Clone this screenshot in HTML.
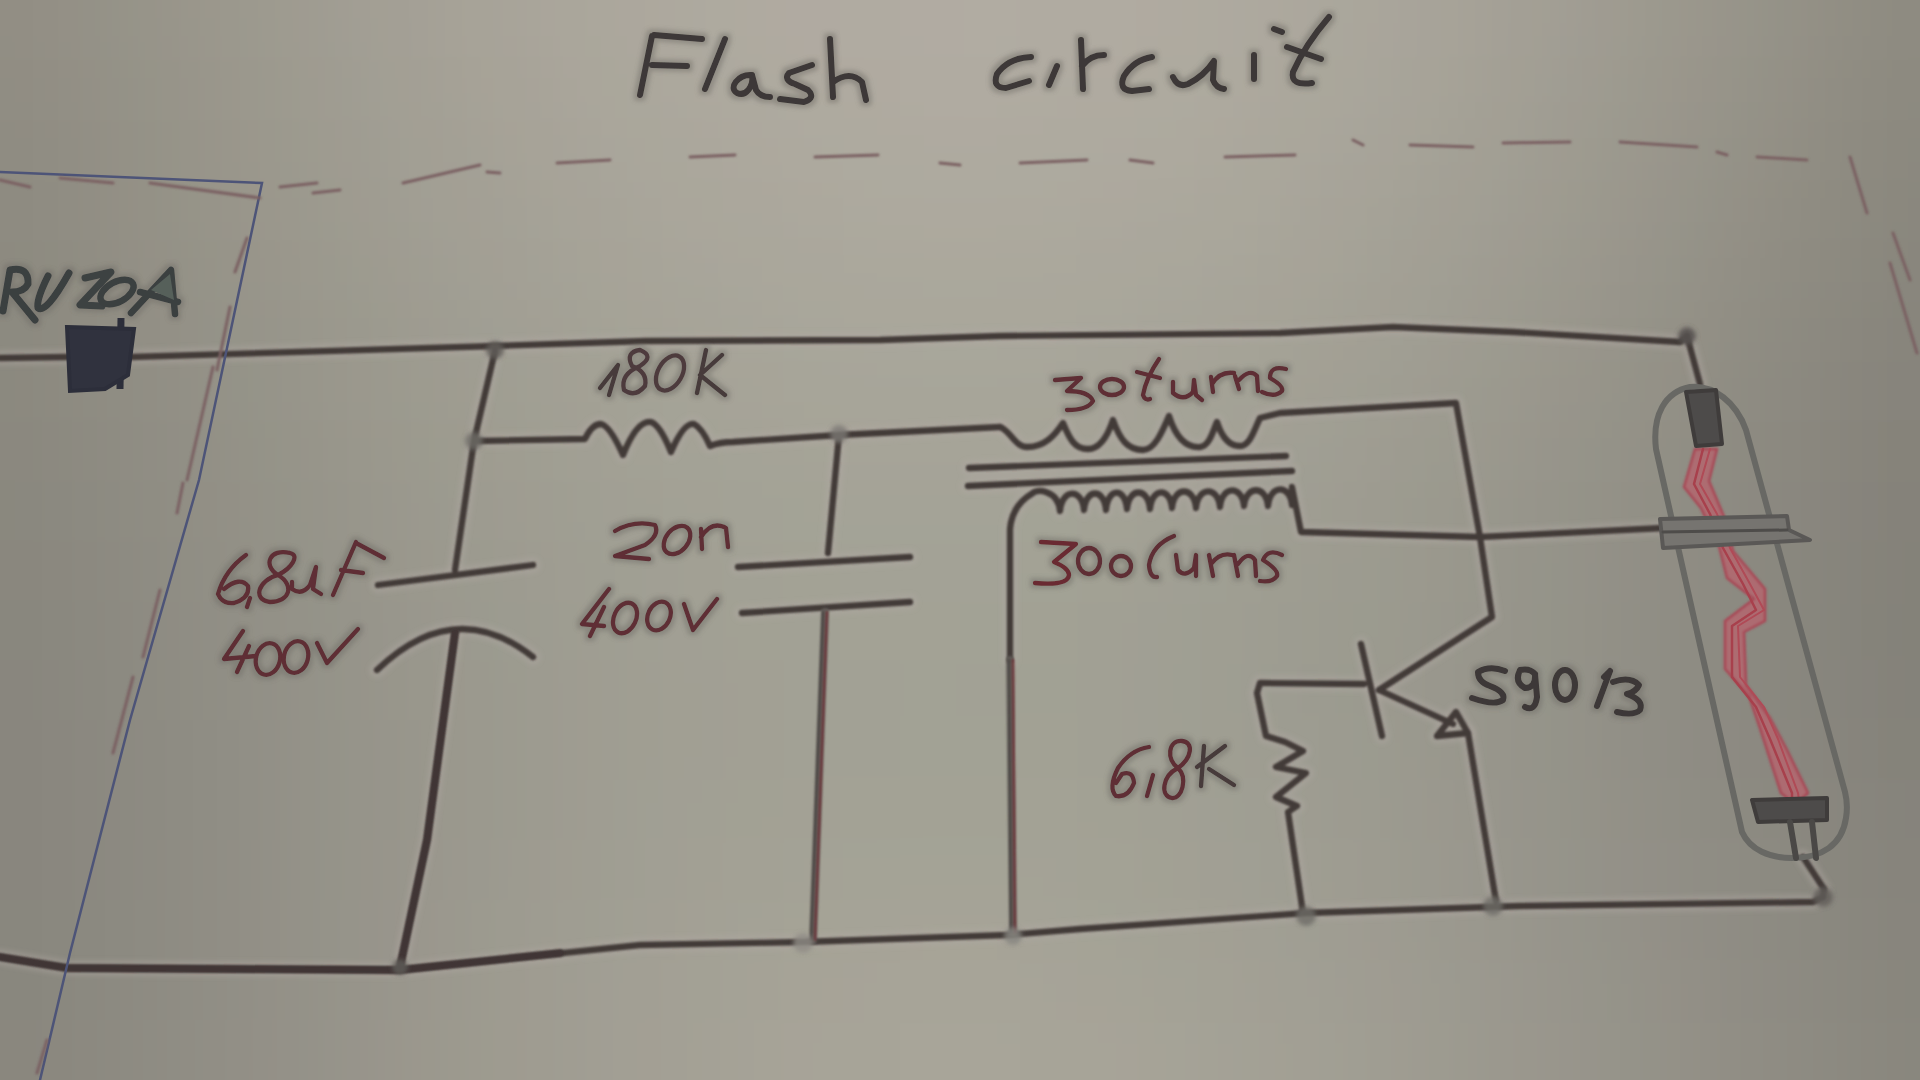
<!DOCTYPE html>
<html><head><meta charset="utf-8"><title>Flash circuit</title>
<style>
html,body{margin:0;padding:0;width:1920px;height:1080px;overflow:hidden;background:#a6a398;font-family:"Liberation Sans",sans-serif;}
svg{display:block;position:absolute;left:0;top:0;}
</style></head><body>
<svg width="1920" height="1080" viewBox="0 0 1920 1080">
<defs>

<filter id="bgblur" filterUnits="userSpaceOnUse" x="-160" y="-160" width="2240" height="1400"><feGaussianBlur stdDeviation="35"/></filter>
<filter id="smudge" x="-10%" y="-10%" width="120%" height="120%">
<feMorphology in="SourceAlpha" operator="dilate" radius="2.5" result="d"/>
<feGaussianBlur in="d" stdDeviation="2.2" result="b"/>
<feFlood flood-color="#6f6c66" flood-opacity="0.45"/>
<feComposite in2="b" operator="in" result="s"/>
<feGaussianBlur in="SourceGraphic" stdDeviation="0.6" result="g"/>
<feMerge><feMergeNode in="s"/><feMergeNode in="g"/></feMerge>
</filter>
<filter id="blur2" x="-5%" y="-5%" width="110%" height="110%"><feGaussianBlur stdDeviation="2"/></filter>
<filter id="blur15" x="-5%" y="-5%" width="110%" height="110%"><feGaussianBlur stdDeviation="1.1"/></filter>
<filter id="blur1" x="-5%" y="-5%" width="110%" height="110%"><feGaussianBlur stdDeviation="0.8"/></filter>
</defs>
<!--BG--><g filter="url(#bgblur)"><rect x="-120" y="-120" width="60" height="60" fill="#918e83"/><rect x="-60" y="-120" width="60" height="60" fill="#918e83"/><rect x="0" y="-120" width="60" height="60" fill="#938f85"/><rect x="60" y="-120" width="60" height="60" fill="#959287"/><rect x="120" y="-120" width="60" height="60" fill="#98948a"/><rect x="180" y="-120" width="60" height="60" fill="#9b978d"/><rect x="240" y="-120" width="60" height="60" fill="#9e9a90"/><rect x="300" y="-120" width="60" height="60" fill="#a19d92"/><rect x="360" y="-120" width="60" height="60" fill="#a4a095"/><rect x="420" y="-120" width="60" height="60" fill="#a6a297"/><rect x="480" y="-120" width="60" height="60" fill="#a8a499"/><rect x="540" y="-120" width="60" height="60" fill="#aaa69b"/><rect x="600" y="-120" width="60" height="60" fill="#aca89d"/><rect x="660" y="-120" width="60" height="60" fill="#aea99f"/><rect x="720" y="-120" width="60" height="60" fill="#afaaa0"/><rect x="780" y="-120" width="60" height="60" fill="#b0aba1"/><rect x="840" y="-120" width="60" height="60" fill="#b1aba2"/><rect x="900" y="-120" width="60" height="60" fill="#b1aca2"/><rect x="960" y="-120" width="60" height="60" fill="#b1aca2"/><rect x="1020" y="-120" width="60" height="60" fill="#b1aca2"/><rect x="1080" y="-120" width="60" height="60" fill="#b0aba1"/><rect x="1140" y="-120" width="60" height="60" fill="#afaaa0"/><rect x="1200" y="-120" width="60" height="60" fill="#aea99f"/><rect x="1260" y="-120" width="60" height="60" fill="#aca89e"/><rect x="1320" y="-120" width="60" height="60" fill="#aba79c"/><rect x="1380" y="-120" width="60" height="60" fill="#a9a59a"/><rect x="1440" y="-120" width="60" height="60" fill="#a6a298"/><rect x="1500" y="-120" width="60" height="60" fill="#a3a095"/><rect x="1560" y="-120" width="60" height="60" fill="#a09d92"/><rect x="1620" y="-120" width="60" height="60" fill="#9d998f"/><rect x="1680" y="-120" width="60" height="60" fill="#99968b"/><rect x="1740" y="-120" width="60" height="60" fill="#969388"/><rect x="1800" y="-120" width="60" height="60" fill="#928f85"/><rect x="1860" y="-120" width="60" height="60" fill="#8f8c82"/><rect x="1920" y="-120" width="60" height="60" fill="#8e8b80"/><rect x="1980" y="-120" width="60" height="60" fill="#8e8b80"/><rect x="-120" y="-60" width="60" height="60" fill="#918e83"/><rect x="-60" y="-60" width="60" height="60" fill="#918e83"/><rect x="0" y="-60" width="60" height="60" fill="#938f85"/><rect x="60" y="-60" width="60" height="60" fill="#959287"/><rect x="120" y="-60" width="60" height="60" fill="#98948a"/><rect x="180" y="-60" width="60" height="60" fill="#9b978d"/><rect x="240" y="-60" width="60" height="60" fill="#9e9a90"/><rect x="300" y="-60" width="60" height="60" fill="#a19d92"/><rect x="360" y="-60" width="60" height="60" fill="#a4a095"/><rect x="420" y="-60" width="60" height="60" fill="#a6a297"/><rect x="480" y="-60" width="60" height="60" fill="#a8a499"/><rect x="540" y="-60" width="60" height="60" fill="#aaa69b"/><rect x="600" y="-60" width="60" height="60" fill="#aca89d"/><rect x="660" y="-60" width="60" height="60" fill="#aea99f"/><rect x="720" y="-60" width="60" height="60" fill="#afaaa0"/><rect x="780" y="-60" width="60" height="60" fill="#b0aba1"/><rect x="840" y="-60" width="60" height="60" fill="#b1aba2"/><rect x="900" y="-60" width="60" height="60" fill="#b1aca2"/><rect x="960" y="-60" width="60" height="60" fill="#b1aca2"/><rect x="1020" y="-60" width="60" height="60" fill="#b1aca2"/><rect x="1080" y="-60" width="60" height="60" fill="#b0aba1"/><rect x="1140" y="-60" width="60" height="60" fill="#afaaa0"/><rect x="1200" y="-60" width="60" height="60" fill="#aea99f"/><rect x="1260" y="-60" width="60" height="60" fill="#aca89e"/><rect x="1320" y="-60" width="60" height="60" fill="#aba79c"/><rect x="1380" y="-60" width="60" height="60" fill="#a9a59a"/><rect x="1440" y="-60" width="60" height="60" fill="#a6a298"/><rect x="1500" y="-60" width="60" height="60" fill="#a3a095"/><rect x="1560" y="-60" width="60" height="60" fill="#a09d92"/><rect x="1620" y="-60" width="60" height="60" fill="#9d998f"/><rect x="1680" y="-60" width="60" height="60" fill="#99968b"/><rect x="1740" y="-60" width="60" height="60" fill="#969388"/><rect x="1800" y="-60" width="60" height="60" fill="#928f85"/><rect x="1860" y="-60" width="60" height="60" fill="#8f8c82"/><rect x="1920" y="-60" width="60" height="60" fill="#8e8b80"/><rect x="1980" y="-60" width="60" height="60" fill="#8e8b80"/><rect x="-120" y="0" width="60" height="60" fill="#918d83"/><rect x="-60" y="0" width="60" height="60" fill="#918d83"/><rect x="0" y="0" width="60" height="60" fill="#928e84"/><rect x="60" y="0" width="60" height="60" fill="#949187"/><rect x="120" y="0" width="60" height="60" fill="#979489"/><rect x="180" y="0" width="60" height="60" fill="#9a978c"/><rect x="240" y="0" width="60" height="60" fill="#9d9a8f"/><rect x="300" y="0" width="60" height="60" fill="#a09d92"/><rect x="360" y="0" width="60" height="60" fill="#a39f95"/><rect x="420" y="0" width="60" height="60" fill="#a6a297"/><rect x="480" y="0" width="60" height="60" fill="#a8a499"/><rect x="540" y="0" width="60" height="60" fill="#aaa69b"/><rect x="600" y="0" width="60" height="60" fill="#aca79d"/><rect x="660" y="0" width="60" height="60" fill="#ada99e"/><rect x="720" y="0" width="60" height="60" fill="#afaaa0"/><rect x="780" y="0" width="60" height="60" fill="#b0aaa1"/><rect x="840" y="0" width="60" height="60" fill="#b0aba1"/><rect x="900" y="0" width="60" height="60" fill="#b1aba2"/><rect x="960" y="0" width="60" height="60" fill="#b1aca2"/><rect x="1020" y="0" width="60" height="60" fill="#b0aba1"/><rect x="1080" y="0" width="60" height="60" fill="#b0aba1"/><rect x="1140" y="0" width="60" height="60" fill="#afaaa0"/><rect x="1200" y="0" width="60" height="60" fill="#aea99f"/><rect x="1260" y="0" width="60" height="60" fill="#aca89d"/><rect x="1320" y="0" width="60" height="60" fill="#aaa69c"/><rect x="1380" y="0" width="60" height="60" fill="#a8a49a"/><rect x="1440" y="0" width="60" height="60" fill="#a6a297"/><rect x="1500" y="0" width="60" height="60" fill="#a39f95"/><rect x="1560" y="0" width="60" height="60" fill="#a09c92"/><rect x="1620" y="0" width="60" height="60" fill="#9c998e"/><rect x="1680" y="0" width="60" height="60" fill="#99968b"/><rect x="1740" y="0" width="60" height="60" fill="#959288"/><rect x="1800" y="0" width="60" height="60" fill="#928f84"/><rect x="1860" y="0" width="60" height="60" fill="#8e8b81"/><rect x="1920" y="0" width="60" height="60" fill="#8d8a80"/><rect x="1980" y="0" width="60" height="60" fill="#8d8a80"/><rect x="-120" y="60" width="60" height="60" fill="#8f8c82"/><rect x="-60" y="60" width="60" height="60" fill="#8f8c82"/><rect x="0" y="60" width="60" height="60" fill="#918d83"/><rect x="60" y="60" width="60" height="60" fill="#939086"/><rect x="120" y="60" width="60" height="60" fill="#969388"/><rect x="180" y="60" width="60" height="60" fill="#99968b"/><rect x="240" y="60" width="60" height="60" fill="#9c998e"/><rect x="300" y="60" width="60" height="60" fill="#9f9c91"/><rect x="360" y="60" width="60" height="60" fill="#a29f94"/><rect x="420" y="60" width="60" height="60" fill="#a5a196"/><rect x="480" y="60" width="60" height="60" fill="#a7a398"/><rect x="540" y="60" width="60" height="60" fill="#a9a59a"/><rect x="600" y="60" width="60" height="60" fill="#aba79c"/><rect x="660" y="60" width="60" height="60" fill="#aca89d"/><rect x="720" y="60" width="60" height="60" fill="#aea99f"/><rect x="780" y="60" width="60" height="60" fill="#afaaa0"/><rect x="840" y="60" width="60" height="60" fill="#afaaa0"/><rect x="900" y="60" width="60" height="60" fill="#b0aba1"/><rect x="960" y="60" width="60" height="60" fill="#b0aba1"/><rect x="1020" y="60" width="60" height="60" fill="#afaba1"/><rect x="1080" y="60" width="60" height="60" fill="#afaaa0"/><rect x="1140" y="60" width="60" height="60" fill="#aeaa9f"/><rect x="1200" y="60" width="60" height="60" fill="#ada99e"/><rect x="1260" y="60" width="60" height="60" fill="#aba79c"/><rect x="1320" y="60" width="60" height="60" fill="#a9a69b"/><rect x="1380" y="60" width="60" height="60" fill="#a7a499"/><rect x="1440" y="60" width="60" height="60" fill="#a5a196"/><rect x="1500" y="60" width="60" height="60" fill="#a29f94"/><rect x="1560" y="60" width="60" height="60" fill="#9e9b91"/><rect x="1620" y="60" width="60" height="60" fill="#9b988d"/><rect x="1680" y="60" width="60" height="60" fill="#98948a"/><rect x="1740" y="60" width="60" height="60" fill="#949187"/><rect x="1800" y="60" width="60" height="60" fill="#908d83"/><rect x="1860" y="60" width="60" height="60" fill="#8d8a80"/><rect x="1920" y="60" width="60" height="60" fill="#8c897f"/><rect x="1980" y="60" width="60" height="60" fill="#8c897f"/><rect x="-120" y="120" width="60" height="60" fill="#8e8b81"/><rect x="-60" y="120" width="60" height="60" fill="#8e8b81"/><rect x="0" y="120" width="60" height="60" fill="#8f8c82"/><rect x="60" y="120" width="60" height="60" fill="#928f85"/><rect x="120" y="120" width="60" height="60" fill="#959287"/><rect x="180" y="120" width="60" height="60" fill="#98958a"/><rect x="240" y="120" width="60" height="60" fill="#9b988d"/><rect x="300" y="120" width="60" height="60" fill="#9e9b90"/><rect x="360" y="120" width="60" height="60" fill="#a19e93"/><rect x="420" y="120" width="60" height="60" fill="#a3a095"/><rect x="480" y="120" width="60" height="60" fill="#a6a297"/><rect x="540" y="120" width="60" height="60" fill="#a8a499"/><rect x="600" y="120" width="60" height="60" fill="#a9a69b"/><rect x="660" y="120" width="60" height="60" fill="#aba79c"/><rect x="720" y="120" width="60" height="60" fill="#aca89d"/><rect x="780" y="120" width="60" height="60" fill="#ada99e"/><rect x="840" y="120" width="60" height="60" fill="#aeaa9f"/><rect x="900" y="120" width="60" height="60" fill="#aeaaa0"/><rect x="960" y="120" width="60" height="60" fill="#aeaaa0"/><rect x="1020" y="120" width="60" height="60" fill="#aeaa9f"/><rect x="1080" y="120" width="60" height="60" fill="#aea99f"/><rect x="1140" y="120" width="60" height="60" fill="#ada99e"/><rect x="1200" y="120" width="60" height="60" fill="#aba89d"/><rect x="1260" y="120" width="60" height="60" fill="#aaa69b"/><rect x="1320" y="120" width="60" height="60" fill="#a8a59a"/><rect x="1380" y="120" width="60" height="60" fill="#a6a398"/><rect x="1440" y="120" width="60" height="60" fill="#a3a095"/><rect x="1500" y="120" width="60" height="60" fill="#a09d92"/><rect x="1560" y="120" width="60" height="60" fill="#9d9a8f"/><rect x="1620" y="120" width="60" height="60" fill="#9a978c"/><rect x="1680" y="120" width="60" height="60" fill="#969389"/><rect x="1740" y="120" width="60" height="60" fill="#939085"/><rect x="1800" y="120" width="60" height="60" fill="#8f8c82"/><rect x="1860" y="120" width="60" height="60" fill="#8c897f"/><rect x="1920" y="120" width="60" height="60" fill="#8a887e"/><rect x="1980" y="120" width="60" height="60" fill="#8a887e"/><rect x="-120" y="180" width="60" height="60" fill="#8d8a80"/><rect x="-60" y="180" width="60" height="60" fill="#8d8a80"/><rect x="0" y="180" width="60" height="60" fill="#8e8b81"/><rect x="60" y="180" width="60" height="60" fill="#918e84"/><rect x="120" y="180" width="60" height="60" fill="#949186"/><rect x="180" y="180" width="60" height="60" fill="#979489"/><rect x="240" y="180" width="60" height="60" fill="#9a978c"/><rect x="300" y="180" width="60" height="60" fill="#9d9a8f"/><rect x="360" y="180" width="60" height="60" fill="#a09d92"/><rect x="420" y="180" width="60" height="60" fill="#a29f94"/><rect x="480" y="180" width="60" height="60" fill="#a4a196"/><rect x="540" y="180" width="60" height="60" fill="#a6a398"/><rect x="600" y="180" width="60" height="60" fill="#a8a599"/><rect x="660" y="180" width="60" height="60" fill="#aaa69b"/><rect x="720" y="180" width="60" height="60" fill="#aba79c"/><rect x="780" y="180" width="60" height="60" fill="#aca89d"/><rect x="840" y="180" width="60" height="60" fill="#aca99e"/><rect x="900" y="180" width="60" height="60" fill="#ada99e"/><rect x="960" y="180" width="60" height="60" fill="#ada99e"/><rect x="1020" y="180" width="60" height="60" fill="#aca99e"/><rect x="1080" y="180" width="60" height="60" fill="#aca89d"/><rect x="1140" y="180" width="60" height="60" fill="#aba89d"/><rect x="1200" y="180" width="60" height="60" fill="#aaa79b"/><rect x="1260" y="180" width="60" height="60" fill="#a8a59a"/><rect x="1320" y="180" width="60" height="60" fill="#a6a398"/><rect x="1380" y="180" width="60" height="60" fill="#a4a196"/><rect x="1440" y="180" width="60" height="60" fill="#a29f94"/><rect x="1500" y="180" width="60" height="60" fill="#9f9c91"/><rect x="1560" y="180" width="60" height="60" fill="#9c998e"/><rect x="1620" y="180" width="60" height="60" fill="#98958b"/><rect x="1680" y="180" width="60" height="60" fill="#959288"/><rect x="1740" y="180" width="60" height="60" fill="#918e84"/><rect x="1800" y="180" width="60" height="60" fill="#8e8b81"/><rect x="1860" y="180" width="60" height="60" fill="#8b887e"/><rect x="1920" y="180" width="60" height="60" fill="#89867d"/><rect x="1980" y="180" width="60" height="60" fill="#89867d"/><rect x="-120" y="240" width="60" height="60" fill="#8c897f"/><rect x="-60" y="240" width="60" height="60" fill="#8c897f"/><rect x="0" y="240" width="60" height="60" fill="#8d8b80"/><rect x="60" y="240" width="60" height="60" fill="#908d83"/><rect x="120" y="240" width="60" height="60" fill="#939086"/><rect x="180" y="240" width="60" height="60" fill="#969388"/><rect x="240" y="240" width="60" height="60" fill="#99968b"/><rect x="300" y="240" width="60" height="60" fill="#9b998e"/><rect x="360" y="240" width="60" height="60" fill="#9e9c90"/><rect x="420" y="240" width="60" height="60" fill="#a19e93"/><rect x="480" y="240" width="60" height="60" fill="#a3a095"/><rect x="540" y="240" width="60" height="60" fill="#a5a297"/><rect x="600" y="240" width="60" height="60" fill="#a7a498"/><rect x="660" y="240" width="60" height="60" fill="#a8a59a"/><rect x="720" y="240" width="60" height="60" fill="#a9a69b"/><rect x="780" y="240" width="60" height="60" fill="#aaa79c"/><rect x="840" y="240" width="60" height="60" fill="#aba89c"/><rect x="900" y="240" width="60" height="60" fill="#aba89c"/><rect x="960" y="240" width="60" height="60" fill="#aba89c"/><rect x="1020" y="240" width="60" height="60" fill="#aba89c"/><rect x="1080" y="240" width="60" height="60" fill="#aaa79c"/><rect x="1140" y="240" width="60" height="60" fill="#a9a69b"/><rect x="1200" y="240" width="60" height="60" fill="#a8a59a"/><rect x="1260" y="240" width="60" height="60" fill="#a7a498"/><rect x="1320" y="240" width="60" height="60" fill="#a5a297"/><rect x="1380" y="240" width="60" height="60" fill="#a2a095"/><rect x="1440" y="240" width="60" height="60" fill="#a09d92"/><rect x="1500" y="240" width="60" height="60" fill="#9d9a90"/><rect x="1560" y="240" width="60" height="60" fill="#9a978d"/><rect x="1620" y="240" width="60" height="60" fill="#97948a"/><rect x="1680" y="240" width="60" height="60" fill="#939086"/><rect x="1740" y="240" width="60" height="60" fill="#908d83"/><rect x="1800" y="240" width="60" height="60" fill="#8d8a80"/><rect x="1860" y="240" width="60" height="60" fill="#89877d"/><rect x="1920" y="240" width="60" height="60" fill="#88857c"/><rect x="1980" y="240" width="60" height="60" fill="#88857c"/><rect x="-120" y="300" width="60" height="60" fill="#8b897f"/><rect x="-60" y="300" width="60" height="60" fill="#8b897f"/><rect x="0" y="300" width="60" height="60" fill="#8c8a80"/><rect x="60" y="300" width="60" height="60" fill="#8f8c82"/><rect x="120" y="300" width="60" height="60" fill="#928f85"/><rect x="180" y="300" width="60" height="60" fill="#949288"/><rect x="240" y="300" width="60" height="60" fill="#97958a"/><rect x="300" y="300" width="60" height="60" fill="#9a988d"/><rect x="360" y="300" width="60" height="60" fill="#9d9a8f"/><rect x="420" y="300" width="60" height="60" fill="#9f9d92"/><rect x="480" y="300" width="60" height="60" fill="#a19f94"/><rect x="540" y="300" width="60" height="60" fill="#a3a195"/><rect x="600" y="300" width="60" height="60" fill="#a5a397"/><rect x="660" y="300" width="60" height="60" fill="#a6a498"/><rect x="720" y="300" width="60" height="60" fill="#a8a599"/><rect x="780" y="300" width="60" height="60" fill="#a8a69a"/><rect x="840" y="300" width="60" height="60" fill="#a9a69b"/><rect x="900" y="300" width="60" height="60" fill="#a9a79b"/><rect x="960" y="300" width="60" height="60" fill="#a9a79b"/><rect x="1020" y="300" width="60" height="60" fill="#a9a69b"/><rect x="1080" y="300" width="60" height="60" fill="#a8a69a"/><rect x="1140" y="300" width="60" height="60" fill="#a7a599"/><rect x="1200" y="300" width="60" height="60" fill="#a6a498"/><rect x="1260" y="300" width="60" height="60" fill="#a5a297"/><rect x="1320" y="300" width="60" height="60" fill="#a3a095"/><rect x="1380" y="300" width="60" height="60" fill="#a19e93"/><rect x="1440" y="300" width="60" height="60" fill="#9e9c91"/><rect x="1500" y="300" width="60" height="60" fill="#9b998e"/><rect x="1560" y="300" width="60" height="60" fill="#98968b"/><rect x="1620" y="300" width="60" height="60" fill="#959288"/><rect x="1680" y="300" width="60" height="60" fill="#928f85"/><rect x="1740" y="300" width="60" height="60" fill="#8e8c82"/><rect x="1800" y="300" width="60" height="60" fill="#8b887f"/><rect x="1860" y="300" width="60" height="60" fill="#88857c"/><rect x="1920" y="300" width="60" height="60" fill="#87847b"/><rect x="1980" y="300" width="60" height="60" fill="#87847b"/><rect x="-120" y="360" width="60" height="60" fill="#8a887e"/><rect x="-60" y="360" width="60" height="60" fill="#8a887e"/><rect x="0" y="360" width="60" height="60" fill="#8c897f"/><rect x="60" y="360" width="60" height="60" fill="#8e8c82"/><rect x="120" y="360" width="60" height="60" fill="#918e84"/><rect x="180" y="360" width="60" height="60" fill="#939187"/><rect x="240" y="360" width="60" height="60" fill="#969489"/><rect x="300" y="360" width="60" height="60" fill="#99978c"/><rect x="360" y="360" width="60" height="60" fill="#9c998e"/><rect x="420" y="360" width="60" height="60" fill="#9e9c90"/><rect x="480" y="360" width="60" height="60" fill="#a09e92"/><rect x="540" y="360" width="60" height="60" fill="#a2a094"/><rect x="600" y="360" width="60" height="60" fill="#a4a296"/><rect x="660" y="360" width="60" height="60" fill="#a5a397"/><rect x="720" y="360" width="60" height="60" fill="#a6a498"/><rect x="780" y="360" width="60" height="60" fill="#a7a599"/><rect x="840" y="360" width="60" height="60" fill="#a7a599"/><rect x="900" y="360" width="60" height="60" fill="#a7a599"/><rect x="960" y="360" width="60" height="60" fill="#a7a599"/><rect x="1020" y="360" width="60" height="60" fill="#a7a599"/><rect x="1080" y="360" width="60" height="60" fill="#a6a498"/><rect x="1140" y="360" width="60" height="60" fill="#a5a398"/><rect x="1200" y="360" width="60" height="60" fill="#a4a296"/><rect x="1260" y="360" width="60" height="60" fill="#a3a195"/><rect x="1320" y="360" width="60" height="60" fill="#a19f93"/><rect x="1380" y="360" width="60" height="60" fill="#9f9d92"/><rect x="1440" y="360" width="60" height="60" fill="#9c9a8f"/><rect x="1500" y="360" width="60" height="60" fill="#9a978d"/><rect x="1560" y="360" width="60" height="60" fill="#97948a"/><rect x="1620" y="360" width="60" height="60" fill="#949187"/><rect x="1680" y="360" width="60" height="60" fill="#908e84"/><rect x="1740" y="360" width="60" height="60" fill="#8d8a81"/><rect x="1800" y="360" width="60" height="60" fill="#8a877e"/><rect x="1860" y="360" width="60" height="60" fill="#87847b"/><rect x="1920" y="360" width="60" height="60" fill="#86837a"/><rect x="1980" y="360" width="60" height="60" fill="#86837a"/><rect x="-120" y="420" width="60" height="60" fill="#8a877e"/><rect x="-60" y="420" width="60" height="60" fill="#8a877e"/><rect x="0" y="420" width="60" height="60" fill="#8b887f"/><rect x="60" y="420" width="60" height="60" fill="#8d8b81"/><rect x="120" y="420" width="60" height="60" fill="#908d84"/><rect x="180" y="420" width="60" height="60" fill="#929086"/><rect x="240" y="420" width="60" height="60" fill="#959388"/><rect x="300" y="420" width="60" height="60" fill="#98968b"/><rect x="360" y="420" width="60" height="60" fill="#9a988d"/><rect x="420" y="420" width="60" height="60" fill="#9d9b8f"/><rect x="480" y="420" width="60" height="60" fill="#9f9d91"/><rect x="540" y="420" width="60" height="60" fill="#a19f93"/><rect x="600" y="420" width="60" height="60" fill="#a2a195"/><rect x="660" y="420" width="60" height="60" fill="#a4a296"/><rect x="720" y="420" width="60" height="60" fill="#a5a397"/><rect x="780" y="420" width="60" height="60" fill="#a5a497"/><rect x="840" y="420" width="60" height="60" fill="#a6a498"/><rect x="900" y="420" width="60" height="60" fill="#a6a498"/><rect x="960" y="420" width="60" height="60" fill="#a6a498"/><rect x="1020" y="420" width="60" height="60" fill="#a5a497"/><rect x="1080" y="420" width="60" height="60" fill="#a5a397"/><rect x="1140" y="420" width="60" height="60" fill="#a4a296"/><rect x="1200" y="420" width="60" height="60" fill="#a2a195"/><rect x="1260" y="420" width="60" height="60" fill="#a19f94"/><rect x="1320" y="420" width="60" height="60" fill="#9f9d92"/><rect x="1380" y="420" width="60" height="60" fill="#9d9b90"/><rect x="1440" y="420" width="60" height="60" fill="#9b998e"/><rect x="1500" y="420" width="60" height="60" fill="#98968c"/><rect x="1560" y="420" width="60" height="60" fill="#959389"/><rect x="1620" y="420" width="60" height="60" fill="#929086"/><rect x="1680" y="420" width="60" height="60" fill="#8f8d83"/><rect x="1740" y="420" width="60" height="60" fill="#8c8980"/><rect x="1800" y="420" width="60" height="60" fill="#89867d"/><rect x="1860" y="420" width="60" height="60" fill="#86837a"/><rect x="1920" y="420" width="60" height="60" fill="#858279"/><rect x="1980" y="420" width="60" height="60" fill="#858279"/><rect x="-120" y="480" width="60" height="60" fill="#89877d"/><rect x="-60" y="480" width="60" height="60" fill="#89877d"/><rect x="0" y="480" width="60" height="60" fill="#8a887f"/><rect x="60" y="480" width="60" height="60" fill="#8c8a81"/><rect x="120" y="480" width="60" height="60" fill="#8f8d83"/><rect x="180" y="480" width="60" height="60" fill="#928f85"/><rect x="240" y="480" width="60" height="60" fill="#949288"/><rect x="300" y="480" width="60" height="60" fill="#97958a"/><rect x="360" y="480" width="60" height="60" fill="#99978d"/><rect x="420" y="480" width="60" height="60" fill="#9c9a8f"/><rect x="480" y="480" width="60" height="60" fill="#9e9c91"/><rect x="540" y="480" width="60" height="60" fill="#a09e92"/><rect x="600" y="480" width="60" height="60" fill="#a1a094"/><rect x="660" y="480" width="60" height="60" fill="#a2a195"/><rect x="720" y="480" width="60" height="60" fill="#a3a296"/><rect x="780" y="480" width="60" height="60" fill="#a4a396"/><rect x="840" y="480" width="60" height="60" fill="#a4a397"/><rect x="900" y="480" width="60" height="60" fill="#a4a397"/><rect x="960" y="480" width="60" height="60" fill="#a4a397"/><rect x="1020" y="480" width="60" height="60" fill="#a4a396"/><rect x="1080" y="480" width="60" height="60" fill="#a3a296"/><rect x="1140" y="480" width="60" height="60" fill="#a2a195"/><rect x="1200" y="480" width="60" height="60" fill="#a19f94"/><rect x="1260" y="480" width="60" height="60" fill="#9f9e92"/><rect x="1320" y="480" width="60" height="60" fill="#9e9c91"/><rect x="1380" y="480" width="60" height="60" fill="#9c9a8f"/><rect x="1440" y="480" width="60" height="60" fill="#99988d"/><rect x="1500" y="480" width="60" height="60" fill="#97958b"/><rect x="1560" y="480" width="60" height="60" fill="#949288"/><rect x="1620" y="480" width="60" height="60" fill="#918f85"/><rect x="1680" y="480" width="60" height="60" fill="#8e8c83"/><rect x="1740" y="480" width="60" height="60" fill="#8b8880"/><rect x="1800" y="480" width="60" height="60" fill="#88857d"/><rect x="1860" y="480" width="60" height="60" fill="#85827a"/><rect x="1920" y="480" width="60" height="60" fill="#848179"/><rect x="1980" y="480" width="60" height="60" fill="#848179"/><rect x="-120" y="540" width="60" height="60" fill="#89867d"/><rect x="-60" y="540" width="60" height="60" fill="#89867d"/><rect x="0" y="540" width="60" height="60" fill="#8a877e"/><rect x="60" y="540" width="60" height="60" fill="#8c8980"/><rect x="120" y="540" width="60" height="60" fill="#8e8c83"/><rect x="180" y="540" width="60" height="60" fill="#918f85"/><rect x="240" y="540" width="60" height="60" fill="#939187"/><rect x="300" y="540" width="60" height="60" fill="#96948a"/><rect x="360" y="540" width="60" height="60" fill="#99978c"/><rect x="420" y="540" width="60" height="60" fill="#9b998e"/><rect x="480" y="540" width="60" height="60" fill="#9d9b90"/><rect x="540" y="540" width="60" height="60" fill="#9f9d92"/><rect x="600" y="540" width="60" height="60" fill="#a09f93"/><rect x="660" y="540" width="60" height="60" fill="#a2a094"/><rect x="720" y="540" width="60" height="60" fill="#a2a195"/><rect x="780" y="540" width="60" height="60" fill="#a3a295"/><rect x="840" y="540" width="60" height="60" fill="#a3a296"/><rect x="900" y="540" width="60" height="60" fill="#a3a296"/><rect x="960" y="540" width="60" height="60" fill="#a3a296"/><rect x="1020" y="540" width="60" height="60" fill="#a2a295"/><rect x="1080" y="540" width="60" height="60" fill="#a2a194"/><rect x="1140" y="540" width="60" height="60" fill="#a1a094"/><rect x="1200" y="540" width="60" height="60" fill="#9f9e92"/><rect x="1260" y="540" width="60" height="60" fill="#9e9d91"/><rect x="1320" y="540" width="60" height="60" fill="#9c9b90"/><rect x="1380" y="540" width="60" height="60" fill="#9b998e"/><rect x="1440" y="540" width="60" height="60" fill="#98978c"/><rect x="1500" y="540" width="60" height="60" fill="#96948a"/><rect x="1560" y="540" width="60" height="60" fill="#939188"/><rect x="1620" y="540" width="60" height="60" fill="#918e85"/><rect x="1680" y="540" width="60" height="60" fill="#8e8b82"/><rect x="1740" y="540" width="60" height="60" fill="#8a887f"/><rect x="1800" y="540" width="60" height="60" fill="#87857c"/><rect x="1860" y="540" width="60" height="60" fill="#85827a"/><rect x="1920" y="540" width="60" height="60" fill="#838178"/><rect x="1980" y="540" width="60" height="60" fill="#838178"/><rect x="-120" y="600" width="60" height="60" fill="#88867d"/><rect x="-60" y="600" width="60" height="60" fill="#88867d"/><rect x="0" y="600" width="60" height="60" fill="#89877e"/><rect x="60" y="600" width="60" height="60" fill="#8b8980"/><rect x="120" y="600" width="60" height="60" fill="#8e8b82"/><rect x="180" y="600" width="60" height="60" fill="#908e85"/><rect x="240" y="600" width="60" height="60" fill="#939187"/><rect x="300" y="600" width="60" height="60" fill="#959389"/><rect x="360" y="600" width="60" height="60" fill="#98968c"/><rect x="420" y="600" width="60" height="60" fill="#9a988e"/><rect x="480" y="600" width="60" height="60" fill="#9c9b90"/><rect x="540" y="600" width="60" height="60" fill="#9e9d91"/><rect x="600" y="600" width="60" height="60" fill="#a09e93"/><rect x="660" y="600" width="60" height="60" fill="#a1a094"/><rect x="720" y="600" width="60" height="60" fill="#a2a194"/><rect x="780" y="600" width="60" height="60" fill="#a2a195"/><rect x="840" y="600" width="60" height="60" fill="#a3a295"/><rect x="900" y="600" width="60" height="60" fill="#a3a295"/><rect x="960" y="600" width="60" height="60" fill="#a2a295"/><rect x="1020" y="600" width="60" height="60" fill="#a2a194"/><rect x="1080" y="600" width="60" height="60" fill="#a1a094"/><rect x="1140" y="600" width="60" height="60" fill="#a09f93"/><rect x="1200" y="600" width="60" height="60" fill="#9f9e92"/><rect x="1260" y="600" width="60" height="60" fill="#9d9c91"/><rect x="1320" y="600" width="60" height="60" fill="#9c9b8f"/><rect x="1380" y="600" width="60" height="60" fill="#9a998e"/><rect x="1440" y="600" width="60" height="60" fill="#98968c"/><rect x="1500" y="600" width="60" height="60" fill="#96948a"/><rect x="1560" y="600" width="60" height="60" fill="#939187"/><rect x="1620" y="600" width="60" height="60" fill="#908e85"/><rect x="1680" y="600" width="60" height="60" fill="#8d8b82"/><rect x="1740" y="600" width="60" height="60" fill="#8a887f"/><rect x="1800" y="600" width="60" height="60" fill="#87857c"/><rect x="1860" y="600" width="60" height="60" fill="#84827a"/><rect x="1920" y="600" width="60" height="60" fill="#838178"/><rect x="1980" y="600" width="60" height="60" fill="#838178"/><rect x="-120" y="660" width="60" height="60" fill="#88857d"/><rect x="-60" y="660" width="60" height="60" fill="#88857d"/><rect x="0" y="660" width="60" height="60" fill="#89867e"/><rect x="60" y="660" width="60" height="60" fill="#8b8980"/><rect x="120" y="660" width="60" height="60" fill="#8d8b82"/><rect x="180" y="660" width="60" height="60" fill="#908e84"/><rect x="240" y="660" width="60" height="60" fill="#929087"/><rect x="300" y="660" width="60" height="60" fill="#959389"/><rect x="360" y="660" width="60" height="60" fill="#98968b"/><rect x="420" y="660" width="60" height="60" fill="#9a988d"/><rect x="480" y="660" width="60" height="60" fill="#9c9a8f"/><rect x="540" y="660" width="60" height="60" fill="#9e9c91"/><rect x="600" y="660" width="60" height="60" fill="#a09e92"/><rect x="660" y="660" width="60" height="60" fill="#a19f93"/><rect x="720" y="660" width="60" height="60" fill="#a2a094"/><rect x="780" y="660" width="60" height="60" fill="#a2a195"/><rect x="840" y="660" width="60" height="60" fill="#a2a195"/><rect x="900" y="660" width="60" height="60" fill="#a2a295"/><rect x="960" y="660" width="60" height="60" fill="#a2a195"/><rect x="1020" y="660" width="60" height="60" fill="#a1a194"/><rect x="1080" y="660" width="60" height="60" fill="#a1a094"/><rect x="1140" y="660" width="60" height="60" fill="#a09f93"/><rect x="1200" y="660" width="60" height="60" fill="#9e9e92"/><rect x="1260" y="660" width="60" height="60" fill="#9d9c91"/><rect x="1320" y="660" width="60" height="60" fill="#9b9a8f"/><rect x="1380" y="660" width="60" height="60" fill="#9a988e"/><rect x="1440" y="660" width="60" height="60" fill="#98968c"/><rect x="1500" y="660" width="60" height="60" fill="#95948a"/><rect x="1560" y="660" width="60" height="60" fill="#939188"/><rect x="1620" y="660" width="60" height="60" fill="#908e85"/><rect x="1680" y="660" width="60" height="60" fill="#8d8b82"/><rect x="1740" y="660" width="60" height="60" fill="#8a887f"/><rect x="1800" y="660" width="60" height="60" fill="#87857d"/><rect x="1860" y="660" width="60" height="60" fill="#85827a"/><rect x="1920" y="660" width="60" height="60" fill="#838179"/><rect x="1980" y="660" width="60" height="60" fill="#838179"/><rect x="-120" y="720" width="60" height="60" fill="#88857d"/><rect x="-60" y="720" width="60" height="60" fill="#88857d"/><rect x="0" y="720" width="60" height="60" fill="#89867e"/><rect x="60" y="720" width="60" height="60" fill="#8b8880"/><rect x="120" y="720" width="60" height="60" fill="#8d8b82"/><rect x="180" y="720" width="60" height="60" fill="#8f8d84"/><rect x="240" y="720" width="60" height="60" fill="#929087"/><rect x="300" y="720" width="60" height="60" fill="#959389"/><rect x="360" y="720" width="60" height="60" fill="#97958b"/><rect x="420" y="720" width="60" height="60" fill="#9a988d"/><rect x="480" y="720" width="60" height="60" fill="#9c9a8f"/><rect x="540" y="720" width="60" height="60" fill="#9e9c91"/><rect x="600" y="720" width="60" height="60" fill="#a09e92"/><rect x="660" y="720" width="60" height="60" fill="#a19f93"/><rect x="720" y="720" width="60" height="60" fill="#a2a094"/><rect x="780" y="720" width="60" height="60" fill="#a2a195"/><rect x="840" y="720" width="60" height="60" fill="#a2a195"/><rect x="900" y="720" width="60" height="60" fill="#a2a295"/><rect x="960" y="720" width="60" height="60" fill="#a2a295"/><rect x="1020" y="720" width="60" height="60" fill="#a2a194"/><rect x="1080" y="720" width="60" height="60" fill="#a1a094"/><rect x="1140" y="720" width="60" height="60" fill="#a09f93"/><rect x="1200" y="720" width="60" height="60" fill="#9f9e92"/><rect x="1260" y="720" width="60" height="60" fill="#9d9c91"/><rect x="1320" y="720" width="60" height="60" fill="#9c9b90"/><rect x="1380" y="720" width="60" height="60" fill="#9a998e"/><rect x="1440" y="720" width="60" height="60" fill="#98968c"/><rect x="1500" y="720" width="60" height="60" fill="#96948a"/><rect x="1560" y="720" width="60" height="60" fill="#939188"/><rect x="1620" y="720" width="60" height="60" fill="#908e85"/><rect x="1680" y="720" width="60" height="60" fill="#8e8b83"/><rect x="1740" y="720" width="60" height="60" fill="#8b8880"/><rect x="1800" y="720" width="60" height="60" fill="#88857d"/><rect x="1860" y="720" width="60" height="60" fill="#85837a"/><rect x="1920" y="720" width="60" height="60" fill="#848279"/><rect x="1980" y="720" width="60" height="60" fill="#848279"/><rect x="-120" y="780" width="60" height="60" fill="#88857d"/><rect x="-60" y="780" width="60" height="60" fill="#88857d"/><rect x="0" y="780" width="60" height="60" fill="#89867e"/><rect x="60" y="780" width="60" height="60" fill="#8b8880"/><rect x="120" y="780" width="60" height="60" fill="#8d8b82"/><rect x="180" y="780" width="60" height="60" fill="#8f8d84"/><rect x="240" y="780" width="60" height="60" fill="#929087"/><rect x="300" y="780" width="60" height="60" fill="#959389"/><rect x="360" y="780" width="60" height="60" fill="#97958b"/><rect x="420" y="780" width="60" height="60" fill="#9a988d"/><rect x="480" y="780" width="60" height="60" fill="#9c9a8f"/><rect x="540" y="780" width="60" height="60" fill="#9e9c91"/><rect x="600" y="780" width="60" height="60" fill="#a09e93"/><rect x="660" y="780" width="60" height="60" fill="#a1a094"/><rect x="720" y="780" width="60" height="60" fill="#a2a194"/><rect x="780" y="780" width="60" height="60" fill="#a3a195"/><rect x="840" y="780" width="60" height="60" fill="#a3a295"/><rect x="900" y="780" width="60" height="60" fill="#a3a295"/><rect x="960" y="780" width="60" height="60" fill="#a3a295"/><rect x="1020" y="780" width="60" height="60" fill="#a3a295"/><rect x="1080" y="780" width="60" height="60" fill="#a2a194"/><rect x="1140" y="780" width="60" height="60" fill="#a1a094"/><rect x="1200" y="780" width="60" height="60" fill="#a09f93"/><rect x="1260" y="780" width="60" height="60" fill="#9e9d92"/><rect x="1320" y="780" width="60" height="60" fill="#9d9b90"/><rect x="1380" y="780" width="60" height="60" fill="#9b998f"/><rect x="1440" y="780" width="60" height="60" fill="#99978d"/><rect x="1500" y="780" width="60" height="60" fill="#96948b"/><rect x="1560" y="780" width="60" height="60" fill="#949288"/><rect x="1620" y="780" width="60" height="60" fill="#918f86"/><rect x="1680" y="780" width="60" height="60" fill="#8e8c83"/><rect x="1740" y="780" width="60" height="60" fill="#8b8980"/><rect x="1800" y="780" width="60" height="60" fill="#89867e"/><rect x="1860" y="780" width="60" height="60" fill="#86847b"/><rect x="1920" y="780" width="60" height="60" fill="#85827a"/><rect x="1980" y="780" width="60" height="60" fill="#85827a"/><rect x="-120" y="840" width="60" height="60" fill="#88857d"/><rect x="-60" y="840" width="60" height="60" fill="#88857d"/><rect x="0" y="840" width="60" height="60" fill="#89867e"/><rect x="60" y="840" width="60" height="60" fill="#8b8880"/><rect x="120" y="840" width="60" height="60" fill="#8d8b82"/><rect x="180" y="840" width="60" height="60" fill="#908d84"/><rect x="240" y="840" width="60" height="60" fill="#929087"/><rect x="300" y="840" width="60" height="60" fill="#959389"/><rect x="360" y="840" width="60" height="60" fill="#98958b"/><rect x="420" y="840" width="60" height="60" fill="#9a988e"/><rect x="480" y="840" width="60" height="60" fill="#9d9a90"/><rect x="540" y="840" width="60" height="60" fill="#9f9d91"/><rect x="600" y="840" width="60" height="60" fill="#a09e93"/><rect x="660" y="840" width="60" height="60" fill="#a2a094"/><rect x="720" y="840" width="60" height="60" fill="#a3a195"/><rect x="780" y="840" width="60" height="60" fill="#a4a296"/><rect x="840" y="840" width="60" height="60" fill="#a4a396"/><rect x="900" y="840" width="60" height="60" fill="#a4a396"/><rect x="960" y="840" width="60" height="60" fill="#a4a396"/><rect x="1020" y="840" width="60" height="60" fill="#a4a296"/><rect x="1080" y="840" width="60" height="60" fill="#a3a295"/><rect x="1140" y="840" width="60" height="60" fill="#a2a194"/><rect x="1200" y="840" width="60" height="60" fill="#a19f94"/><rect x="1260" y="840" width="60" height="60" fill="#9f9e92"/><rect x="1320" y="840" width="60" height="60" fill="#9e9c91"/><rect x="1380" y="840" width="60" height="60" fill="#9c9a8f"/><rect x="1440" y="840" width="60" height="60" fill="#99978e"/><rect x="1500" y="840" width="60" height="60" fill="#97958b"/><rect x="1560" y="840" width="60" height="60" fill="#949289"/><rect x="1620" y="840" width="60" height="60" fill="#928f87"/><rect x="1680" y="840" width="60" height="60" fill="#8f8d84"/><rect x="1740" y="840" width="60" height="60" fill="#8c8a81"/><rect x="1800" y="840" width="60" height="60" fill="#89877e"/><rect x="1860" y="840" width="60" height="60" fill="#87847c"/><rect x="1920" y="840" width="60" height="60" fill="#86837b"/><rect x="1980" y="840" width="60" height="60" fill="#86837b"/><rect x="-120" y="900" width="60" height="60" fill="#88867d"/><rect x="-60" y="900" width="60" height="60" fill="#88867d"/><rect x="0" y="900" width="60" height="60" fill="#89877e"/><rect x="60" y="900" width="60" height="60" fill="#8b8980"/><rect x="120" y="900" width="60" height="60" fill="#8d8b82"/><rect x="180" y="900" width="60" height="60" fill="#908d84"/><rect x="240" y="900" width="60" height="60" fill="#939087"/><rect x="300" y="900" width="60" height="60" fill="#959389"/><rect x="360" y="900" width="60" height="60" fill="#98958c"/><rect x="420" y="900" width="60" height="60" fill="#9b988e"/><rect x="480" y="900" width="60" height="60" fill="#9d9b90"/><rect x="540" y="900" width="60" height="60" fill="#9f9d92"/><rect x="600" y="900" width="60" height="60" fill="#a19f93"/><rect x="660" y="900" width="60" height="60" fill="#a3a095"/><rect x="720" y="900" width="60" height="60" fill="#a4a296"/><rect x="780" y="900" width="60" height="60" fill="#a5a396"/><rect x="840" y="900" width="60" height="60" fill="#a5a397"/><rect x="900" y="900" width="60" height="60" fill="#a6a497"/><rect x="960" y="900" width="60" height="60" fill="#a6a497"/><rect x="1020" y="900" width="60" height="60" fill="#a5a397"/><rect x="1080" y="900" width="60" height="60" fill="#a4a396"/><rect x="1140" y="900" width="60" height="60" fill="#a3a195"/><rect x="1200" y="900" width="60" height="60" fill="#a2a094"/><rect x="1260" y="900" width="60" height="60" fill="#a09e93"/><rect x="1320" y="900" width="60" height="60" fill="#9f9d92"/><rect x="1380" y="900" width="60" height="60" fill="#9d9a90"/><rect x="1440" y="900" width="60" height="60" fill="#9a988e"/><rect x="1500" y="900" width="60" height="60" fill="#98968c"/><rect x="1560" y="900" width="60" height="60" fill="#95938a"/><rect x="1620" y="900" width="60" height="60" fill="#939087"/><rect x="1680" y="900" width="60" height="60" fill="#908d85"/><rect x="1740" y="900" width="60" height="60" fill="#8d8b82"/><rect x="1800" y="900" width="60" height="60" fill="#8a887f"/><rect x="1860" y="900" width="60" height="60" fill="#88857d"/><rect x="1920" y="900" width="60" height="60" fill="#87847b"/><rect x="1980" y="900" width="60" height="60" fill="#87847b"/><rect x="-120" y="960" width="60" height="60" fill="#88867d"/><rect x="-60" y="960" width="60" height="60" fill="#88867d"/><rect x="0" y="960" width="60" height="60" fill="#89877e"/><rect x="60" y="960" width="60" height="60" fill="#8b8980"/><rect x="120" y="960" width="60" height="60" fill="#8e8b82"/><rect x="180" y="960" width="60" height="60" fill="#908e85"/><rect x="240" y="960" width="60" height="60" fill="#939087"/><rect x="300" y="960" width="60" height="60" fill="#969389"/><rect x="360" y="960" width="60" height="60" fill="#98968c"/><rect x="420" y="960" width="60" height="60" fill="#9b988e"/><rect x="480" y="960" width="60" height="60" fill="#9e9b90"/><rect x="540" y="960" width="60" height="60" fill="#a09d92"/><rect x="600" y="960" width="60" height="60" fill="#a29f94"/><rect x="660" y="960" width="60" height="60" fill="#a3a195"/><rect x="720" y="960" width="60" height="60" fill="#a5a296"/><rect x="780" y="960" width="60" height="60" fill="#a6a397"/><rect x="840" y="960" width="60" height="60" fill="#a7a498"/><rect x="900" y="960" width="60" height="60" fill="#a7a498"/><rect x="960" y="960" width="60" height="60" fill="#a7a498"/><rect x="1020" y="960" width="60" height="60" fill="#a6a498"/><rect x="1080" y="960" width="60" height="60" fill="#a6a397"/><rect x="1140" y="960" width="60" height="60" fill="#a4a296"/><rect x="1200" y="960" width="60" height="60" fill="#a3a195"/><rect x="1260" y="960" width="60" height="60" fill="#a19f94"/><rect x="1320" y="960" width="60" height="60" fill="#a09d92"/><rect x="1380" y="960" width="60" height="60" fill="#9e9b91"/><rect x="1440" y="960" width="60" height="60" fill="#9b998f"/><rect x="1500" y="960" width="60" height="60" fill="#99968d"/><rect x="1560" y="960" width="60" height="60" fill="#96948a"/><rect x="1620" y="960" width="60" height="60" fill="#949188"/><rect x="1680" y="960" width="60" height="60" fill="#918e85"/><rect x="1740" y="960" width="60" height="60" fill="#8e8b83"/><rect x="1800" y="960" width="60" height="60" fill="#8b8980"/><rect x="1860" y="960" width="60" height="60" fill="#89867d"/><rect x="1920" y="960" width="60" height="60" fill="#87857c"/><rect x="1980" y="960" width="60" height="60" fill="#87857c"/><rect x="-120" y="1020" width="60" height="60" fill="#89867e"/><rect x="-60" y="1020" width="60" height="60" fill="#89867e"/><rect x="0" y="1020" width="60" height="60" fill="#8a877e"/><rect x="60" y="1020" width="60" height="60" fill="#8c8980"/><rect x="120" y="1020" width="60" height="60" fill="#8e8c83"/><rect x="180" y="1020" width="60" height="60" fill="#918e85"/><rect x="240" y="1020" width="60" height="60" fill="#939087"/><rect x="300" y="1020" width="60" height="60" fill="#96938a"/><rect x="360" y="1020" width="60" height="60" fill="#99968c"/><rect x="420" y="1020" width="60" height="60" fill="#9c998e"/><rect x="480" y="1020" width="60" height="60" fill="#9e9b90"/><rect x="540" y="1020" width="60" height="60" fill="#a09d92"/><rect x="600" y="1020" width="60" height="60" fill="#a29f94"/><rect x="660" y="1020" width="60" height="60" fill="#a4a195"/><rect x="720" y="1020" width="60" height="60" fill="#a5a297"/><rect x="780" y="1020" width="60" height="60" fill="#a7a498"/><rect x="840" y="1020" width="60" height="60" fill="#a7a498"/><rect x="900" y="1020" width="60" height="60" fill="#a8a599"/><rect x="960" y="1020" width="60" height="60" fill="#a8a599"/><rect x="1020" y="1020" width="60" height="60" fill="#a7a498"/><rect x="1080" y="1020" width="60" height="60" fill="#a7a498"/><rect x="1140" y="1020" width="60" height="60" fill="#a5a397"/><rect x="1200" y="1020" width="60" height="60" fill="#a4a196"/><rect x="1260" y="1020" width="60" height="60" fill="#a2a094"/><rect x="1320" y="1020" width="60" height="60" fill="#a19e93"/><rect x="1380" y="1020" width="60" height="60" fill="#9e9c91"/><rect x="1440" y="1020" width="60" height="60" fill="#9c998f"/><rect x="1500" y="1020" width="60" height="60" fill="#9a978d"/><rect x="1560" y="1020" width="60" height="60" fill="#97948b"/><rect x="1620" y="1020" width="60" height="60" fill="#949288"/><rect x="1680" y="1020" width="60" height="60" fill="#928f86"/><rect x="1740" y="1020" width="60" height="60" fill="#8f8c83"/><rect x="1800" y="1020" width="60" height="60" fill="#8c8a81"/><rect x="1860" y="1020" width="60" height="60" fill="#8a877e"/><rect x="1920" y="1020" width="60" height="60" fill="#88867d"/><rect x="1980" y="1020" width="60" height="60" fill="#88867d"/><rect x="-120" y="1080" width="60" height="60" fill="#89867e"/><rect x="-60" y="1080" width="60" height="60" fill="#89867e"/><rect x="0" y="1080" width="60" height="60" fill="#8a877f"/><rect x="60" y="1080" width="60" height="60" fill="#8c8a81"/><rect x="120" y="1080" width="60" height="60" fill="#8e8c83"/><rect x="180" y="1080" width="60" height="60" fill="#918e85"/><rect x="240" y="1080" width="60" height="60" fill="#949187"/><rect x="300" y="1080" width="60" height="60" fill="#96938a"/><rect x="360" y="1080" width="60" height="60" fill="#99968c"/><rect x="420" y="1080" width="60" height="60" fill="#9c998e"/><rect x="480" y="1080" width="60" height="60" fill="#9e9b90"/><rect x="540" y="1080" width="60" height="60" fill="#a19d92"/><rect x="600" y="1080" width="60" height="60" fill="#a39f94"/><rect x="660" y="1080" width="60" height="60" fill="#a4a195"/><rect x="720" y="1080" width="60" height="60" fill="#a6a297"/><rect x="780" y="1080" width="60" height="60" fill="#a7a498"/><rect x="840" y="1080" width="60" height="60" fill="#a8a498"/><rect x="900" y="1080" width="60" height="60" fill="#a8a599"/><rect x="960" y="1080" width="60" height="60" fill="#a8a599"/><rect x="1020" y="1080" width="60" height="60" fill="#a8a599"/><rect x="1080" y="1080" width="60" height="60" fill="#a7a498"/><rect x="1140" y="1080" width="60" height="60" fill="#a6a397"/><rect x="1200" y="1080" width="60" height="60" fill="#a4a196"/><rect x="1260" y="1080" width="60" height="60" fill="#a3a095"/><rect x="1320" y="1080" width="60" height="60" fill="#a19e93"/><rect x="1380" y="1080" width="60" height="60" fill="#9f9c91"/><rect x="1440" y="1080" width="60" height="60" fill="#9c9a8f"/><rect x="1500" y="1080" width="60" height="60" fill="#9a978d"/><rect x="1560" y="1080" width="60" height="60" fill="#97958b"/><rect x="1620" y="1080" width="60" height="60" fill="#959289"/><rect x="1680" y="1080" width="60" height="60" fill="#928f86"/><rect x="1740" y="1080" width="60" height="60" fill="#8f8d84"/><rect x="1800" y="1080" width="60" height="60" fill="#8d8a81"/><rect x="1860" y="1080" width="60" height="60" fill="#8a887f"/><rect x="1920" y="1080" width="60" height="60" fill="#89867d"/><rect x="1980" y="1080" width="60" height="60" fill="#89867d"/><rect x="-120" y="1140" width="60" height="60" fill="#89867e"/><rect x="-60" y="1140" width="60" height="60" fill="#89867e"/><rect x="0" y="1140" width="60" height="60" fill="#8a877f"/><rect x="60" y="1140" width="60" height="60" fill="#8c8a81"/><rect x="120" y="1140" width="60" height="60" fill="#8e8c83"/><rect x="180" y="1140" width="60" height="60" fill="#918e85"/><rect x="240" y="1140" width="60" height="60" fill="#949187"/><rect x="300" y="1140" width="60" height="60" fill="#96938a"/><rect x="360" y="1140" width="60" height="60" fill="#99968c"/><rect x="420" y="1140" width="60" height="60" fill="#9c998e"/><rect x="480" y="1140" width="60" height="60" fill="#9e9b90"/><rect x="540" y="1140" width="60" height="60" fill="#a19d92"/><rect x="600" y="1140" width="60" height="60" fill="#a39f94"/><rect x="660" y="1140" width="60" height="60" fill="#a4a195"/><rect x="720" y="1140" width="60" height="60" fill="#a6a297"/><rect x="780" y="1140" width="60" height="60" fill="#a7a498"/><rect x="840" y="1140" width="60" height="60" fill="#a8a498"/><rect x="900" y="1140" width="60" height="60" fill="#a8a599"/><rect x="960" y="1140" width="60" height="60" fill="#a8a599"/><rect x="1020" y="1140" width="60" height="60" fill="#a8a599"/><rect x="1080" y="1140" width="60" height="60" fill="#a7a498"/><rect x="1140" y="1140" width="60" height="60" fill="#a6a397"/><rect x="1200" y="1140" width="60" height="60" fill="#a4a196"/><rect x="1260" y="1140" width="60" height="60" fill="#a3a095"/><rect x="1320" y="1140" width="60" height="60" fill="#a19e93"/><rect x="1380" y="1140" width="60" height="60" fill="#9f9c91"/><rect x="1440" y="1140" width="60" height="60" fill="#9c9a8f"/><rect x="1500" y="1140" width="60" height="60" fill="#9a978d"/><rect x="1560" y="1140" width="60" height="60" fill="#97958b"/><rect x="1620" y="1140" width="60" height="60" fill="#959289"/><rect x="1680" y="1140" width="60" height="60" fill="#928f86"/><rect x="1740" y="1140" width="60" height="60" fill="#8f8d84"/><rect x="1800" y="1140" width="60" height="60" fill="#8d8a81"/><rect x="1860" y="1140" width="60" height="60" fill="#8a887f"/><rect x="1920" y="1140" width="60" height="60" fill="#89867d"/><rect x="1980" y="1140" width="60" height="60" fill="#89867d"/></g><!--/BG-->

<!-- halo layer -->
<defs><g id="wires">
<!-- top main wire -->
<path d="M0 358 L67 357 M131 357 L495 346 L646 341 L880 340 L1000 336 L1280 333 L1393 327 L1513 332 L1680 342 L1687 336"/>
<!-- bottom main wire -->
<path d="M0 957 L67 968 L400 970 L640 945 L803 942 L1007 935 L1080 929 L1306 913 L1520 906 L1813 902 L1823 897"/>
<!-- left electrolytic cap -->
<path d="M495 351 L474 441 L455 570"/>
<path d="M378 585 L533 565"/>
<path d="M377 670 Q455 595 533 657"/>
<path d="M455 633 L427 840 L400 967"/>
<!-- 180K resistor -->
<path d="M474 441 L585 439 Q592 424 601 424 Q610 426 623 455 Q637 420 651 422 Q660 425 671 452 Q684 422 694 424 Q702 428 710 446 Q720 442 733 442 L839 435 L1000 427"/>
<!-- 20n cap -->
<path d="M839 435 L828 553"/>
<path d="M738 567 L910 557"/>
<path d="M742 613 L910 602"/>

<!-- primary coil -->
<path d="M1000 427 C1010 430 1015 447 1027 447 C1045 447 1055 435 1063 423 C1070 440 1075 449 1088 449 C1100 449 1108 435 1113 420 C1120 440 1128 450 1143 450 C1155 450 1163 430 1169 416 C1175 435 1185 448 1200 447 C1210 446 1213 430 1217 422 C1222 438 1230 446 1240 446 C1250 446 1254 430 1260 418 L1280 413 L1456 403 L1480 537 L1492 617 L1379 690"/>
<!-- core -->
<path d="M969 468 L1286 456"/>
<path d="M968 486 L1292 471"/>
<!-- secondary coil -->
<path d="M1010 660 L1010 529 Q1012 505 1033 493 C1035 489 1058 489 1060 511 C1062 488 1082 488 1084 510 C1086 488 1104 488 1106 510 C1108 487 1125 487 1127 509 C1129 487 1148 487 1150 509 C1152 487 1170 487 1172 508 C1174 486 1194 486 1196 508 C1198 486 1218 486 1220 507 C1222 485 1242 485 1244 506 C1246 485 1266 485 1268 506 C1270 484 1290 484 1292 505 L1292 487 L1301 532 L1480 537 L1663 528"/>
<!-- 6.8K resistor + base -->
<path d="M1364 684 L1260 683 L1257 693 L1266 736 L1285 742 L1303 751 L1276 767 L1306 773 L1276 797 L1297 806 L1288 812 L1303 913"/>
<!-- transistor -->
<path d="M1361 644 L1382 736"/>
<path d="M1379 690 L1453 724"/>
<path d="M1437 736 L1456 712 L1468 733 Z"/>
<path d="M1468 733 L1496 901"/>
<!-- tube wires -->
<path d="M1687 336 L1700 384"/>
<path d="M1803 857 L1824 889 L1823 897"/>
<!-- diode -->
</g></defs>
<g fill="none" stroke="#b3a9a4" stroke-opacity="0.35" stroke-width="16" stroke-linecap="round" stroke-linejoin="round" filter="url(#blur2)"><use href="#wires"/></g>
<g fill="none" stroke="#433a39" stroke-width="6.3" stroke-linecap="round" stroke-linejoin="round" filter="url(#blur15)"><use href="#wires"/></g>
<path d="M0 957 L67 968 L400 970 L560 953 M455 633 L427 840 L400 967" fill="none" stroke="#3f3535" stroke-width="7.5" stroke-linecap="round" stroke-linejoin="round" filter="url(#blur1)"/>
<g fill="none" stroke-linecap="round" filter="url(#blur1)">
<path d="M825 612 L813 940 M1010 660 L1013 933" stroke="#625d59" stroke-width="8" stroke-opacity="0.9"/>
<path d="M827 612 L815 940 M1013 660 L1015 933" stroke="#6a3238" stroke-width="2.5"/>
<path d="M823 612 L811 940 M1009 660 L1011 933" stroke="#4a4442" stroke-width="2.5"/>
</g>
<path d="M121 318 L120 389" stroke="#2c2e3a" stroke-width="7"/>

<!-- diode body -->
<path d="M67 327 L134 329 L128 375 L105 389 L70 391 Z" fill="#30323e" stroke="#2c2e3a" stroke-width="4"/>

<!-- junction dots -->
<g filter="url(#blur2)">
<circle cx="495" cy="350" r="9" fill="#5f5c58" opacity="0.85"/><circle cx="474" cy="441" r="9" fill="#6d6a65" opacity="0.8"/><circle cx="839" cy="434" r="9" fill="#7a7873" opacity="0.8"/>
<circle cx="1687" cy="336" r="9" fill="#55524f" opacity="0.9"/><circle cx="803" cy="943" r="10" fill="#8e8c86" opacity="0.8"/><circle cx="1013" cy="936" r="9" fill="#86847e" opacity="0.8"/>
<circle cx="400" cy="967" r="8" fill="#5f5c58" opacity="0.8"/><circle cx="1306" cy="916" r="10" fill="#6d6a65" opacity="0.8"/><circle cx="1493" cy="906" r="10" fill="#6d6a65" opacity="0.8"/><circle cx="1823" cy="897" r="10" fill="#5f5c58" opacity="0.85"/>
</g>

<!-- blue box + dashed box -->
<g fill="none" stroke-linecap="round">
<path d="M0 172 L262 183 L199 480 L130 720 L70 953 L40 1080" stroke="#4d5478" stroke-width="2.5"/>
<g stroke="#7a6062" stroke-width="3" filter="url(#blur1)">
<path d="M0 180 L30 187 M60 178 L113 183 M150 183 L260 198"/>
<path d="M247 238 L235 272 M230 307 L217 370 M213 367 L187 480 M183 483 L177 513 M160 590 L143 657 M133 677 L113 753 M47 1040 L37 1073"/>
<path d="M280 187 L317 183 M313 193 L340 190 M403 183 L480 165 M487 172 L500 173 M557 163 L610 160"/>
<path d="M690 157 L735 155 M815 157 L878 155 M940 163 L960 165 M1020 163 L1087 160 M1130 160 L1153 163 M1225 157 L1295 155 M1353 140 L1363 145 M1410 145 L1473 147 M1503 143 L1570 142 M1620 142 L1697 147 M1717 152 L1727 155 M1757 157 L1807 160"/>
<path d="M1850 157 L1867 213 M1893 233 L1910 280 M1890 263 L1917 353"/>
</g>
</g>

<!-- flash tube -->
<g fill="none" stroke-linecap="round" stroke-linejoin="round">
<path d="M1690 387 C1665 392 1652 415 1656 449 L1742 832 C1750 850 1770 858 1792 858 C1822 858 1842 845 1846 818 C1848 806 1847 800 1845 792 L1746 430 C1736 402 1714 385 1690 387 Z" stroke="#686864" stroke-width="6"/>
<path d="M1695 449 L1684 487 L1701 508 L1719 546 L1727 578 L1754 599 L1725 621 L1725 669 L1749 696 L1760 728 L1781 793 L1790 800 L1800 800 L1808 793 L1787 750 L1770 718 L1746 685 L1744 632 L1765 621 L1765 589 L1733 551 L1725 519 L1709 481 L1717 449 Z" fill="#b3666f" fill-opacity="0.85" stroke="#a84654" stroke-width="2.5" filter="url(#blur1)"/>
<path d="M1703 449 L1694 484 L1710 514 L1723 548 L1743 584 L1756 610 L1732 626 L1732 677 L1756 707 L1770 739 L1792 793 L1792 800" stroke="#a8404c" stroke-width="2.5"/><path d="M1710 449 L1700 484 L1717 514 L1730 548 L1750 584 L1764 610 L1738 626 L1740 677 L1764 707 L1778 739 L1798 793 L1799 800" stroke="#b04a56" stroke-width="2"/>
<path d="M1686 392 L1716 390 L1722 444 L1696 446 Z" fill="#4d4b4a" stroke="#3f3c3b" stroke-width="4"/>
<path d="M1660 519 L1787 516 L1789 530 L1810 540 L1663 548 Z" fill="#767470" stroke="#5a5856" stroke-width="4"/><path d="M1663 532 L1787 530" stroke="#4e4c4a" stroke-width="3"/>
<path d="M1752 800 L1827 798 L1827 820 L1758 822 Z" fill="#4d4b4a" stroke="#3f3c3b" stroke-width="4"/>
<path d="M1790 822 L1796 858 M1812 822 L1816 858" stroke="#4a4846" stroke-width="6"/>
</g>

<!-- text -->
<g fill="none" stroke="#3d3837" stroke-width="6" stroke-linecap="round" stroke-linejoin="round" filter="url(#smudge)">
<!-- Flash -->
<path d="M652 36 L640 95 M654 35 L702 39 M652 65 L687 66"/>
<path d="M725 39 L705 89"/>
<path d="M752 75 C738 74 728 88 737 93 C746 97 754 86 752 75 L756 90 Q760 97 770 97"/>
<path d="M812 65 L789 73 Q783 80 795 84 L808 90 Q816 98 804 102 L780 99"/>
<path d="M830 39 L833 97 M833 82 Q850 70 862 82 L866 100"/>
<!-- circuit -->
<path d="M1031 57 Q1008 58 997 74 Q992 88 1006 88 L1029 81"/>
<path d="M1057 66 L1049 85"/>
<path d="M1081 40 L1083 89 M1082 66 Q1090 55 1104 55"/>
<path d="M1152 57 Q1134 60 1124 76 Q1118 90 1132 91 L1149 89"/>
<path d="M1173 77 Q1178 88 1188 84 Q1204 76 1214 61 L1213 80 Q1216 88 1224 89"/>
<path d="M1254 55 L1254 79 M1274 29 L1282 32"/>
<path d="M1329 17 Q1305 45 1293 72 Q1290 86 1312 83 M1287 47 L1321 59"/>
<!-- S9013 -->
<path d="M1505 671 Q1490 665 1478 672 Q1478 682 1490 686 Q1506 692 1503 700 Q1495 706 1472 698"/>
<path d="M1535 674 Q1530 668 1520 670 Q1514 682 1525 688 Q1536 688 1535 674 L1537 697 Q1535 712 1525 707"/>
<ellipse cx="1565" cy="685" rx="10" ry="15"/>
<path d="M1610 671 L1597 706 M1610 671 L1604 677"/>
<path d="M1613 682 Q1630 676 1639 685 Q1636 692 1627 694 Q1644 700 1640 710 Q1634 716 1617 712"/>
<!-- RU20A -->
<path d="M3 311 L10 270 Q29 266 28 284 Q24 292 12 292 L35 320" stroke="#3a3f40" stroke-width="7"/>
<path d="M48 276 Q36 300 38 308 Q46 314 69 273" stroke="#3a3f40" stroke-width="7"/>
<path d="M85 278 L111 272 L80 305 L102 306" stroke="#3d4243" stroke-width="7"/>
<ellipse cx="117" cy="292" rx="18" ry="10" stroke="#3a3f40" stroke-width="6.5" transform="rotate(-28 117 292)"/>
<path d="M131 313 L171 270 L175 314 M140 292 L178 302" stroke="#3a3f40" stroke-width="6.5"/>
<path d="M151 290 L170 274 L174 300 Z" fill="#56605a" stroke="none"/>
</g>

<g fill="none" stroke="#5e2e34" stroke-width="4.3" stroke-linecap="round" stroke-linejoin="round" filter="url(#smudge)">
<!-- 180K -->
<path d="M600 388 L618 365 L609 395" stroke="#463a3a"/>
<path d="M640 350 Q625 352 632 366 Q648 372 645 386 Q635 398 624 390 Q620 374 640 366 Q655 356 640 350" stroke="#4e3a3e"/>
<ellipse cx="670" cy="373" rx="12" ry="19" transform="rotate(30 670 373)" stroke="#4e3a3e"/>
<path d="M706 350 L697 393 M722 355 L700 375 L725 395" stroke="#463a3a"/>
<!-- 30turns -->
<path d="M1055 380 L1081 378 L1067 391 Q1089 391 1093 401 Q1088 410 1067 410"/>
<ellipse cx="1112" cy="387" rx="12" ry="8"/>
<path d="M1159 359 Q1146 378 1143 395 Q1145 401 1150 399 M1137 372 L1160 378"/>
<path d="M1173 382 L1173 393 Q1184 402 1193 392 L1194 380 L1196 395 L1202 400"/>
<path d="M1211 377 L1213 392 M1212 384 Q1220 371 1234 373"/>
<path d="M1235 376 L1239 389 M1239 380 Q1250 368 1257 376 L1258 391"/>
<path d="M1286 369 Q1270 365 1270 378 Q1284 386 1282 391 Q1275 398 1262 392"/>
<!-- 300turns -->
<path d="M1041 542 L1076 544 L1054 562 Q1069 568 1069 575 Q1068 586 1035 583" stroke="#6a2a30"/>
<ellipse cx="1089" cy="561" rx="11" ry="13"/>
<ellipse cx="1121" cy="566" rx="10" ry="10"/>
<path d="M1174 536 Q1152 545 1149 565 Q1150 578 1157 577"/>
<path d="M1176 555 L1178 570 Q1185 578 1194 568 L1196 555 L1196 576"/>
<path d="M1209 555 L1213 576 M1211 564 Q1220 552 1232 555"/>
<path d="M1234 555 L1238 576 M1238 564 Q1248 550 1255 560 L1256 576"/>
<path d="M1282 555 Q1268 548 1263 560 Q1279 570 1277 576 Q1272 583 1260 581"/>
<!-- 6,8uF -->
<path d="M246 555 Q225 570 218 594 Q222 604 234 603 Q250 598 248 586 Q240 576 224 589"/>
<path d="M250 598 L247 607"/>
<path d="M290 553 C270 548 262 565 278 575 C295 585 290 602 270 602 C252 600 258 580 278 575 C292 568 300 555 290 553"/>
<path d="M292 582 L292 589 Q302 596 310 585 L316 567 L313 589 L321 594"/>
<path d="M356 542 L333 595 M356 543 L384 558 M341 570 L363 573"/>
<!-- 400V left -->
<path d="M243 631 L224 659 L256 656 M249 646 L237 672"/>
<ellipse cx="268" cy="659" rx="12" ry="16" transform="rotate(15 268 659)"/>
<ellipse cx="296" cy="657" rx="12" ry="16" transform="rotate(15 296 657)"/>
<path d="M317 643 L327 663 L358 629"/>
<!-- 20n -->
<path d="M615 531 Q634 520 655 525 Q660 535 645 545 L615 556 L649 559"/>
<ellipse cx="677" cy="540" rx="11" ry="16" transform="rotate(40 677 540)"/>
<path d="M701 529 L702 549 M701 537 Q712 520 726 528 L728 547"/>
<!-- 400V mid -->
<path d="M609 589 L582 624 L604 626 M604 607 L590 636"/>
<ellipse cx="625" cy="618" rx="11" ry="16" transform="rotate(25 625 618)"/>
<ellipse cx="659" cy="616" rx="11" ry="15" transform="rotate(25 659 616)"/>
<path d="M684 604 L693 630 L717 599"/>
<!-- 6,8K -->
<path d="M1149 747 Q1130 750 1118 768 Q1108 788 1116 796 Q1128 798 1134 783 Q1133 770 1122 774 L1116 783"/>
<path d="M1153 775 L1147 796"/>
<path d="M1182 741 C1168 740 1166 760 1178 768 C1188 778 1182 799 1172 798 C1160 796 1162 776 1178 768 C1192 758 1194 742 1182 741"/>
<path d="M1204 746 L1201 786 M1225 746 L1197 767 M1209 769 L1234 785" stroke="#463a3a"/>
</g>
</svg>
</body></html>
